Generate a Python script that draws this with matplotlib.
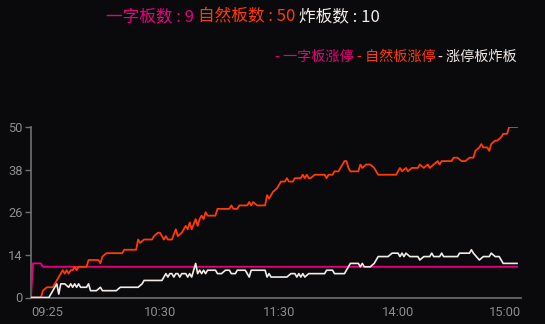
import matplotlib
matplotlib.use("Agg")
import matplotlib.pyplot as plt
import matplotlib.transforms as mtransforms

# Trading-minute index (0 = 09:25, 5 = 09:30, 125 = 11:30/13:00, 245 = 15:00)
yizi_t = [0, 1, 5, 6, 245]
yizi_v = [0, 10, 10, 9, 9]

ziran_t = [0, 5, 6, 8, 11, 13, 15, 16, 17, 18, 19, 20, 21, 22, 23, 24, 28, 29, 34, 35, 36, 38,
           46, 47, 53, 54, 55, 57, 61, 62, 64, 65, 67, 68, 69, 71, 73, 74, 76, 78, 79, 80, 81,
           83, 84, 85, 86, 87, 88, 89, 93, 94, 100, 101, 102, 104, 105, 109, 110, 111, 112,
           114, 118, 119, 120, 121, 122, 124, 126, 128, 129, 130, 132, 133, 136, 137, 138,
           139, 140, 141, 143, 148, 149, 150, 152, 153, 155, 157, 158, 159, 160, 161, 163,
           165, 166, 167, 169, 171, 173, 175, 184, 185, 186, 187, 189, 190, 192, 195, 196,
           198, 200, 201, 203, 205, 206, 207, 212, 213, 215, 217, 219, 221, 223, 224, 226,
           227, 228, 230, 231, 232, 234, 235, 237, 238, 240, 241, 245]
ziran_v = [0, 0, 2, 3, 3, 5, 7, 8, 7, 8, 7, 8, 8, 9, 8, 9, 9, 11, 11, 10, 12, 13,
           13, 14, 14, 17, 16, 17, 17, 18, 19, 19, 17, 18, 17, 17, 20, 18, 19, 21, 20, 22, 20,
           23, 21, 23, 24, 23, 25, 24, 24, 26, 26, 27, 26, 26, 27, 27, 28, 27, 28,
           27, 27, 30, 29, 30, 31, 32, 34, 34, 35, 34, 34, 35, 35, 36, 35,
           36, 35, 35, 36, 36, 35, 36, 36, 37, 37, 39, 40, 40, 38, 37, 37,
           37, 39, 38, 39, 39, 38, 36, 36, 37, 38, 37, 38, 37, 38, 38, 39,
           38, 39, 38, 39, 40, 39, 40, 40, 41, 41, 40, 40, 41, 41, 43, 44,
           45, 44, 44, 43, 45, 46, 46, 47, 48, 48, 50, 50]

zhaban_t = [0, 9, 11, 13, 14, 15, 17, 19, 20, 21, 22, 23, 24, 25, 28, 29, 30, 33, 35, 36, 43,
            45, 54, 56, 57, 66, 68, 69, 70, 71, 72, 73, 74, 75, 76, 78, 79, 80, 81, 82, 83,
            84, 85, 86, 87, 88, 89, 93, 94, 96, 98, 100, 101, 103, 104, 108, 109, 110, 111,
            118, 119, 120, 121, 129, 131, 133, 134, 135, 136, 137, 138, 140, 148, 149, 152,
            153, 158, 159, 161, 165, 166, 167, 168, 171, 173, 175, 180, 182, 185, 186, 187,
            188, 189, 191, 195, 196, 198, 201, 202, 203, 206, 207, 208, 215, 216, 221, 222,
            223, 226, 228, 231, 232, 234, 236, 238, 245]
zhaban_v = [0, 0, 2, 4, 1, 4, 4, 3, 4, 3, 4, 3, 4, 3, 3, 4, 2, 2, 3, 2, 2,
            3, 3, 4, 5, 5, 7, 6, 7, 7, 6, 7, 7, 6, 7, 7, 6, 7, 6, 8, 10,
            7, 8, 7, 8, 7, 8, 8, 7, 7, 8, 8, 7, 7, 8, 8, 7, 6, 8,
            8, 6, 7, 6, 6, 7, 7, 6, 7, 6, 7, 6, 7, 7, 8, 8,
            7, 7, 8, 10, 10, 9, 10, 9, 9, 10, 12, 12, 13, 13, 12, 13,
            12, 13, 12, 12, 11, 12, 12, 13, 12, 12, 13, 12, 12, 13, 13, 14,
            13, 11, 12, 12, 13, 12, 12, 10, 10]

xtick_pos = [0, 65, 125, 185, 245]
xtick_labels = ["09:25", "10:30", "11:30", "14:00", "15:00"]
ytick_pos = [0, 12.5, 25, 37.5, 50]
ytick_labels = ["0", "14", "26", "38", "50"]

BG = "#0a0a0c"
PINK = "#e8007f"
ORANGE = "#ff3a06"
WHITE = "#f2ebe8"
GRID = "#707070"
LABEL = "#8c8c8c"
CJK = ["Noto Sans CJK SC", "DejaVu Sans"]

fig = plt.figure(figsize=(5.45, 3.24), dpi=100, facecolor=BG)
ax = fig.add_axes([31 / 545, 26.5 / 324, 490 / 545, 170.5 / 324], facecolor=BG)

ax.plot(yizi_t, yizi_v, color=PINK, lw=1.3, zorder=3)
ax.plot(ziran_t, ziran_v, color=ORANGE, lw=1.3, zorder=3)
ax.plot(zhaban_t, zhaban_v, color=WHITE, lw=1.2, zorder=4)

ax.set_xlim(0, 247)
ax.set_ylim(0, 50)
for s in ("top", "right"):
    ax.spines[s].set_visible(False)
for s in ("left", "bottom"):
    ax.spines[s].set_color(GRID)
    ax.spines[s].set_linewidth(1.2)

ax.set_yticks(ytick_pos)
ax.set_yticklabels(ytick_labels)
ax.set_xticks(xtick_pos)
ax.set_xticklabels(xtick_labels)
ax.tick_params(axis="y", length=4, width=1, color=GRID, pad=2,
               labelcolor=LABEL, labelsize=9.3)
ax.tick_params(axis="x", length=0, pad=6, labelcolor=LABEL, labelsize=9.3)
for lab in ax.get_xticklabels() + ax.get_yticklabels():
    lab.set_fontfamily("Roboto")
xl = ax.get_xticklabels()
xl[0].set_ha("left")
xl[-1].set_ha("right")
xl[-1].set_transform(xl[-1].get_transform() +
                     mtransforms.ScaledTranslation(4 / 100, 0, fig.dpi_scale_trans))

renderer = fig.canvas.get_renderer()


def draw_row(pieces, x0, y, size):
    x = x0
    for text, color in pieces:
        t = fig.text(x / 545, 1 - y / 324, text, color=color, fontsize=size,
                     family=CJK, ha="left", va="center")
        bb = t.get_window_extent(renderer)
        x += bb.width


draw_row([("一字板数 : 9 ", PINK), ("自然板数 : 50 ", ORANGE), ("炸板数 : 10", WHITE)],
         106, 17, 12)
draw_row([("- 一字板涨停 ", PINK), ("- 自然板涨停 ", ORANGE), ("- 涨停板炸板", WHITE)],
         275, 57, 10.2)

fig.savefig("out.png", dpi=100, facecolor=BG)
